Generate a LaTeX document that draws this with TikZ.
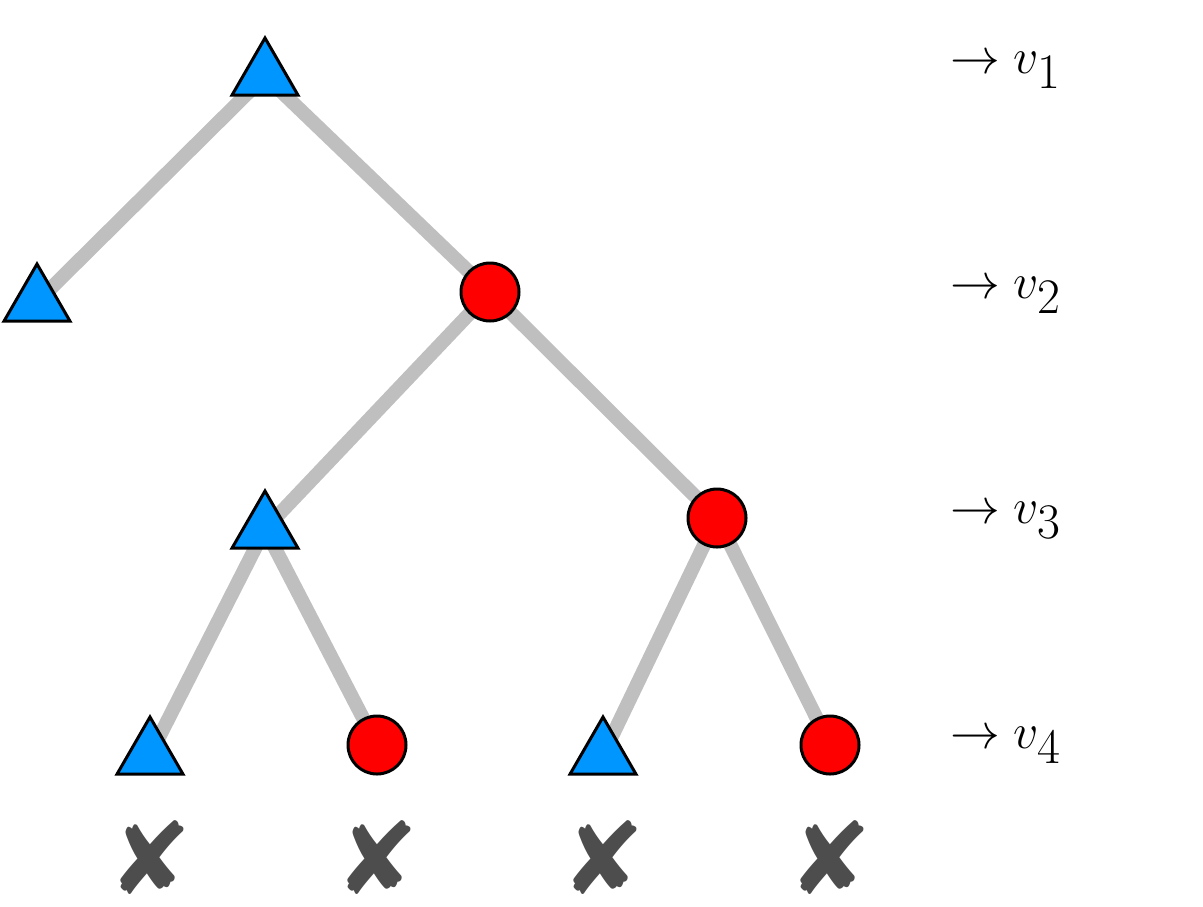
\documentclass[tikz,border=0pt]{standalone}
\usepackage{fontspec}
\newfontfamily\djv{DejaVu Sans}
\usetikzlibrary{shapes.geometric}
\definecolor{tblue}{RGB}{0,150,255}
\definecolor{edgegray}{RGB}{191,191,191}
\definecolor{xgray}{RGB}{77,77,77}
\tikzset{
  tri/.style={regular polygon, regular polygon sides=3, draw=black, line width=1.5pt, fill=tblue, minimum size=38pt, inner sep=0pt},
  dot/.style={circle, draw=black, line width=1.5pt, fill=red, minimum size=29pt, inner sep=0pt},
  edge/.style={draw=edgegray, line width=7pt},
  xmark/.style={text=xgray, font=\djv\fontsize{50}{50}\selectfont, inner sep=0pt},
  lab/.style={font=\fontsize{47}{52}\selectfont, inner sep=0pt}
}
\begin{document}
\begin{tikzpicture}[x=0.5pt,y=-0.5pt]
\useasboundingbox (0,0) rectangle (1203,906);
\coordinate (ca) at (265,76);
\coordinate (cb) at (37,302);
\coordinate (cc) at (490,292);
\coordinate (cd) at (265,529);
\coordinate (ce) at (717,518);
\coordinate (cf) at (150,755);
\coordinate (cg) at (377,745);
\coordinate (ch) at (603,755);
\coordinate (ci) at (830,745);
\path[edge] (ca) -- (cb) (ca) -- (cc) (cc) -- (cd) (cc) -- (ce)
  (cd) -- (cf) (cd) -- (cg) (ce) -- (ch) (ce) -- (ci);
\node[tri] (a) at (ca) {};
\node[tri] (b) at (cb) {};
\node[dot] (c) at (cc) {};
\node[tri] (d) at (cd) {};
\node[dot] (e) at (ce) {};
\node[tri] (f) at (cf) {};
\node[dot] (g) at (cg) {};
\node[tri] (h) at (ch) {};
\node[dot] (i) at (ci) {};
\foreach \x/\n in {150/x1,377/x2,603/x3,830/x4}
  \node[xmark] (\n) at (\x,858) {✘};
\foreach \y/\k in {70/1,295/2,520/3,745/4}
  \node[lab,anchor=west] (l\k) at (950,\y) {$\rightarrow v_{\k}$};
\end{tikzpicture}
\end{document}
